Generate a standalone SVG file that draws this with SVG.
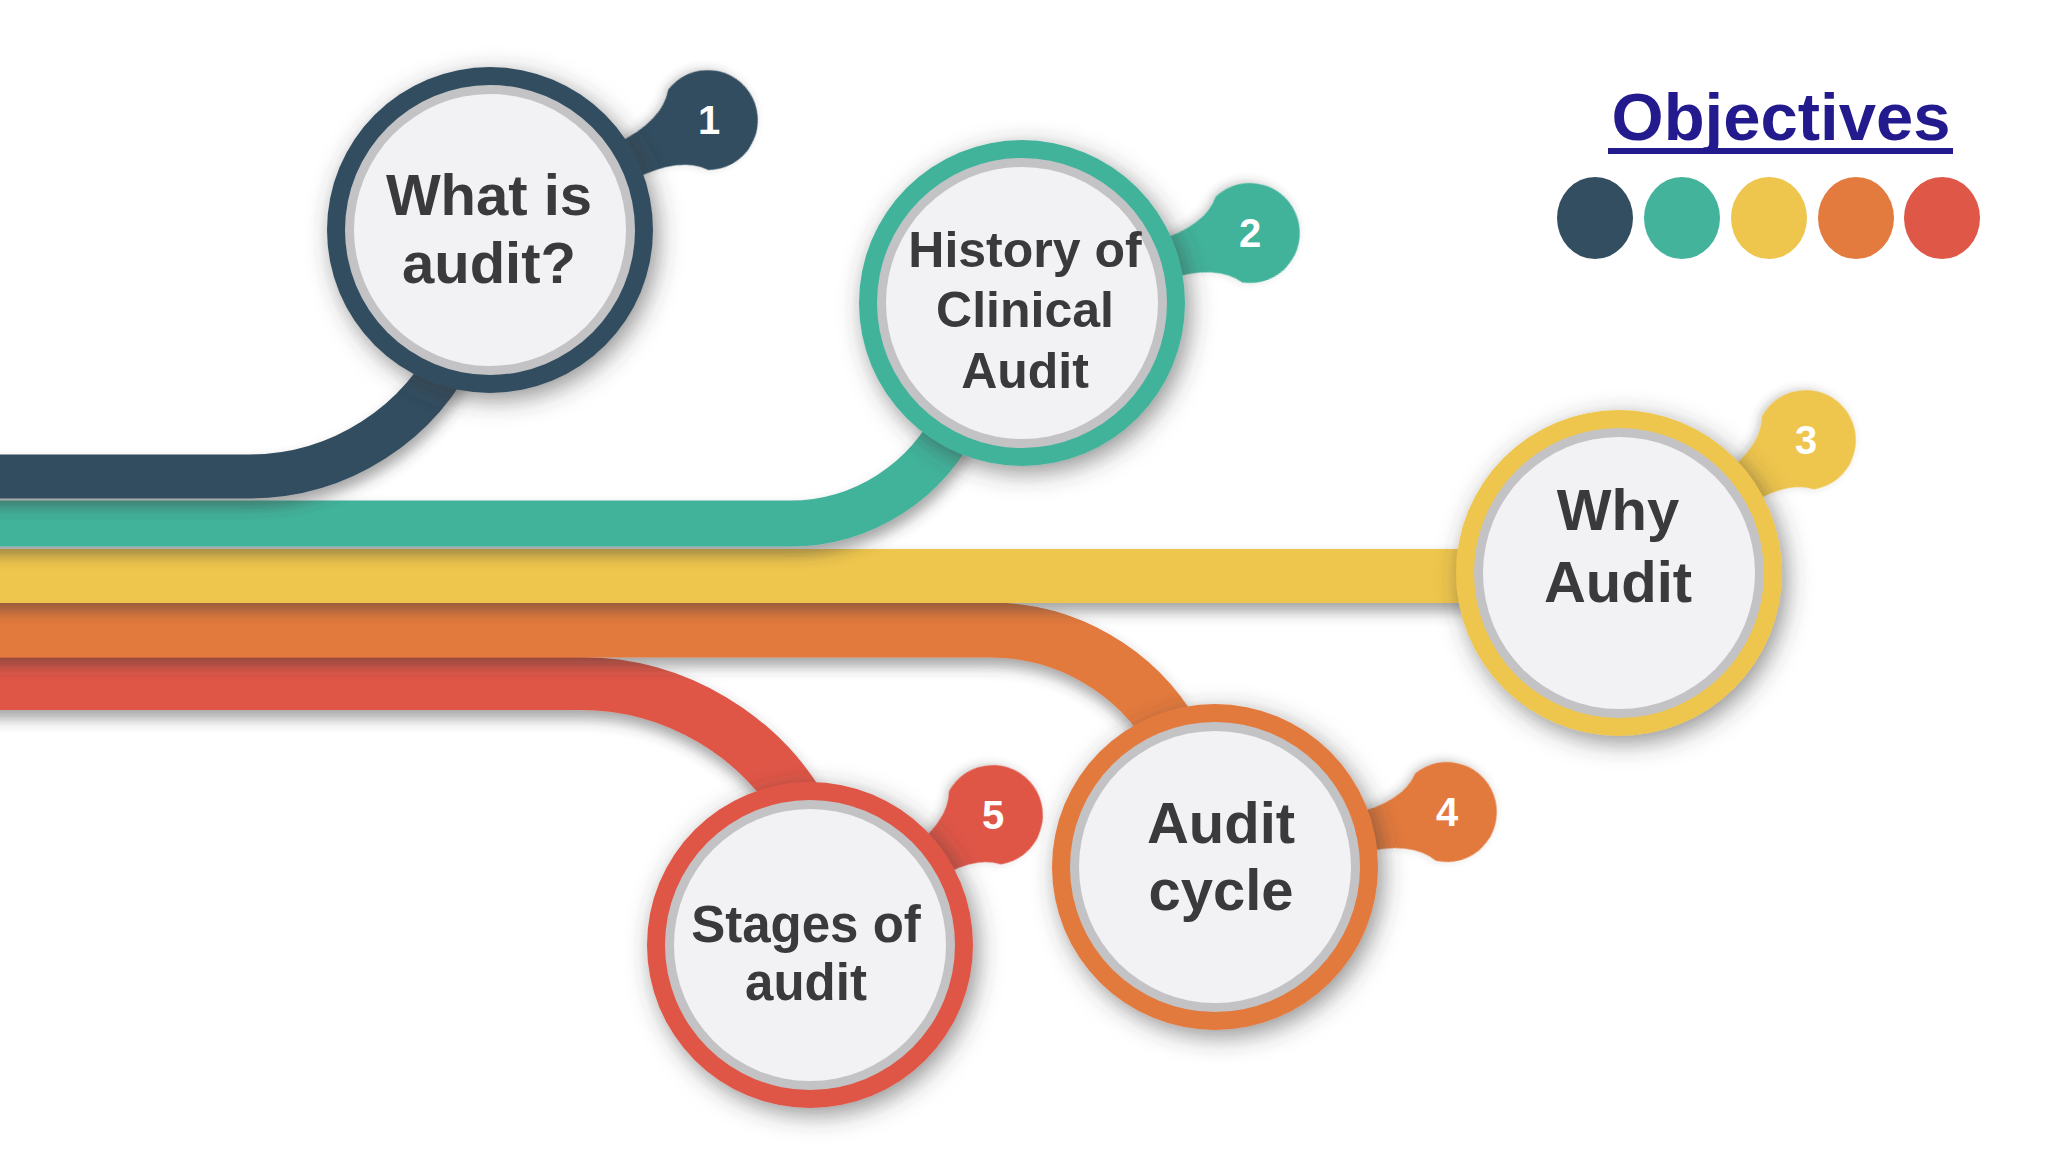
<svg xmlns="http://www.w3.org/2000/svg" width="2048" height="1152" viewBox="0 0 2048 1152">
  <defs>
    <filter id="bandShadow" filterUnits="userSpaceOnUse" x="-100" y="0" width="2248" height="1152">
      <feDropShadow dx="2" dy="9" stdDeviation="7" flood-color="#3a3a3a" flood-opacity="0.45"/>
    </filter>
    <filter id="ringShadow" x="-30%" y="-30%" width="160%" height="160%">
      <feDropShadow dx="5" dy="7" stdDeviation="12" flood-color="#3a3a3a" flood-opacity="0.55"/>
    </filter>
    <filter id="badgeShadow" x="-30%" y="-30%" width="160%" height="160%">
      <feDropShadow dx="2" dy="3" stdDeviation="4" flood-color="#3a3a3a" flood-opacity="0.25"/>
    </filter>
    <path id="tear" d="M 22,-45 Q 42,-18 100,-20 L 100,20 Q 42,18 22,45 A 50 50 0 1 1 22,-45 Z"/>
  </defs>
  <style>
    .band { fill: none; filter: url(#bandShadow); }
    .ring { filter: url(#ringShadow); }
    .gray { fill: #c3c3c5; }
    .inner { fill: #f2f2f4; }
    .label { font-family: "Liberation Sans", Arial, sans-serif; font-weight: bold; fill: #3a3a3c; text-anchor: middle; }
    .num { font-family: "Liberation Sans", Arial, sans-serif; font-weight: bold; fill: #ffffff; text-anchor: middle; font-size: 40px; }
    .c1 { fill: #334e60; } .c2 { fill: #43b39b; } .c3 { fill: #eec54d; } .c4 { fill: #e37a3e; } .c5 { fill: #df5747; }
  </style>
  <rect width="2048" height="1152" fill="#ffffff"/>

  <g id="connectors">
    <path class="band" stroke="#df5747" stroke-width="53" d="M -20 683.5 H 580 A 258 258 0 0 1 808 820"/>
    <path class="band" stroke="#e37a3e" stroke-width="55" d="M -20 630 H 990 A 212 212 0 0 1 1174 736"/>
    <path class="band" stroke="#eec54d" stroke-width="54" d="M -20 576 H 1560"/>
    <path class="band" stroke="#43b39b" stroke-width="46" d="M -20 523.5 H 790 A 185 185 0 0 0 958 416"/>
    <path class="band" stroke="#334e60" stroke-width="44" d="M -20 476.5 H 250 A 230 230 0 0 0 458 343"/>
  </g>

  <g id="node1">
    <use href="#tear" class="c1" filter="url(#badgeShadow)" transform="translate(708,120) rotate(153.4)"/>
    <circle class="c1 ring" cx="490" cy="230" r="163"/>
    <circle class="gray" cx="490" cy="230" r="145"/>
    <circle class="inner" cx="490" cy="230" r="136"/>
    <text class="label" x="489" y="215" font-size="58">What is</text>
    <text class="label" x="489" y="283" font-size="58">audit?</text>
    <text class="num" x="709" y="134">1</text>
  </g>

  <g id="node2">
    <use href="#tear" class="c2" filter="url(#badgeShadow)" transform="translate(1250,233) rotate(162.9)"/>
    <circle class="c2 ring" cx="1022" cy="303" r="163"/>
    <circle class="gray" cx="1022" cy="303" r="145"/>
    <circle class="inner" cx="1022" cy="303" r="136"/>
    <text class="label" x="1025" y="267" font-size="50">History of</text>
    <text class="label" x="1025" y="327" font-size="50">Clinical</text>
    <text class="label" x="1025" y="388" font-size="50">Audit</text>
    <text class="num" x="1250" y="247">2</text>
  </g>

  <g id="node3">
    <use href="#tear" class="c3" filter="url(#badgeShadow)" transform="translate(1806,440) rotate(144.6)"/>
    <circle class="c3 ring" cx="1619" cy="573" r="163"/>
    <circle class="gray" cx="1619" cy="573" r="145"/>
    <circle class="inner" cx="1619" cy="573" r="136"/>
    <text class="label" x="1618" y="530" font-size="58">Why</text>
    <text class="label" x="1618" y="602" font-size="58">Audit</text>
    <text class="num" x="1806" y="454">3</text>
  </g>

  <g id="node4">
    <use href="#tear" class="c4" filter="url(#badgeShadow)" transform="translate(1447,812) rotate(166.7)"/>
    <circle class="c4 ring" cx="1215" cy="867" r="163"/>
    <circle class="gray" cx="1215" cy="867" r="145"/>
    <circle class="inner" cx="1215" cy="867" r="136"/>
    <text class="label" x="1221" y="843" font-size="58">Audit</text>
    <text class="label" x="1221" y="910" font-size="58">cycle</text>
    <text class="num" x="1447" y="826">4</text>
  </g>

  <g id="node5">
    <use href="#tear" class="c5" filter="url(#badgeShadow)" transform="translate(993,815) rotate(144.6)"/>
    <circle class="c5 ring" cx="810" cy="945" r="163"/>
    <circle class="gray" cx="810" cy="945" r="145"/>
    <circle class="inner" cx="810" cy="945" r="136"/>
    <text class="label" x="806" y="942" font-size="51">Stages of</text>
    <text class="label" x="806" y="1000" font-size="51">audit</text>
    <text class="num" x="993" y="829">5</text>
  </g>

  <g id="legend">
    <text x="1781" y="140" font-family="Liberation Sans, Arial, sans-serif" font-weight="bold" font-size="67" fill="#231a8e" text-anchor="middle">Objectives</text>
    <rect x="1608" y="148" width="345" height="6" fill="#231a8e"/>
    <ellipse class="c1" cx="1595" cy="218" rx="38" ry="41"/>
    <ellipse class="c2" cx="1682" cy="218" rx="38" ry="41"/>
    <ellipse class="c3" cx="1769" cy="218" rx="38" ry="41"/>
    <ellipse class="c4" cx="1856" cy="218" rx="38" ry="41"/>
    <ellipse class="c5" cx="1942" cy="218" rx="38" ry="41"/>
  </g>
</svg>
